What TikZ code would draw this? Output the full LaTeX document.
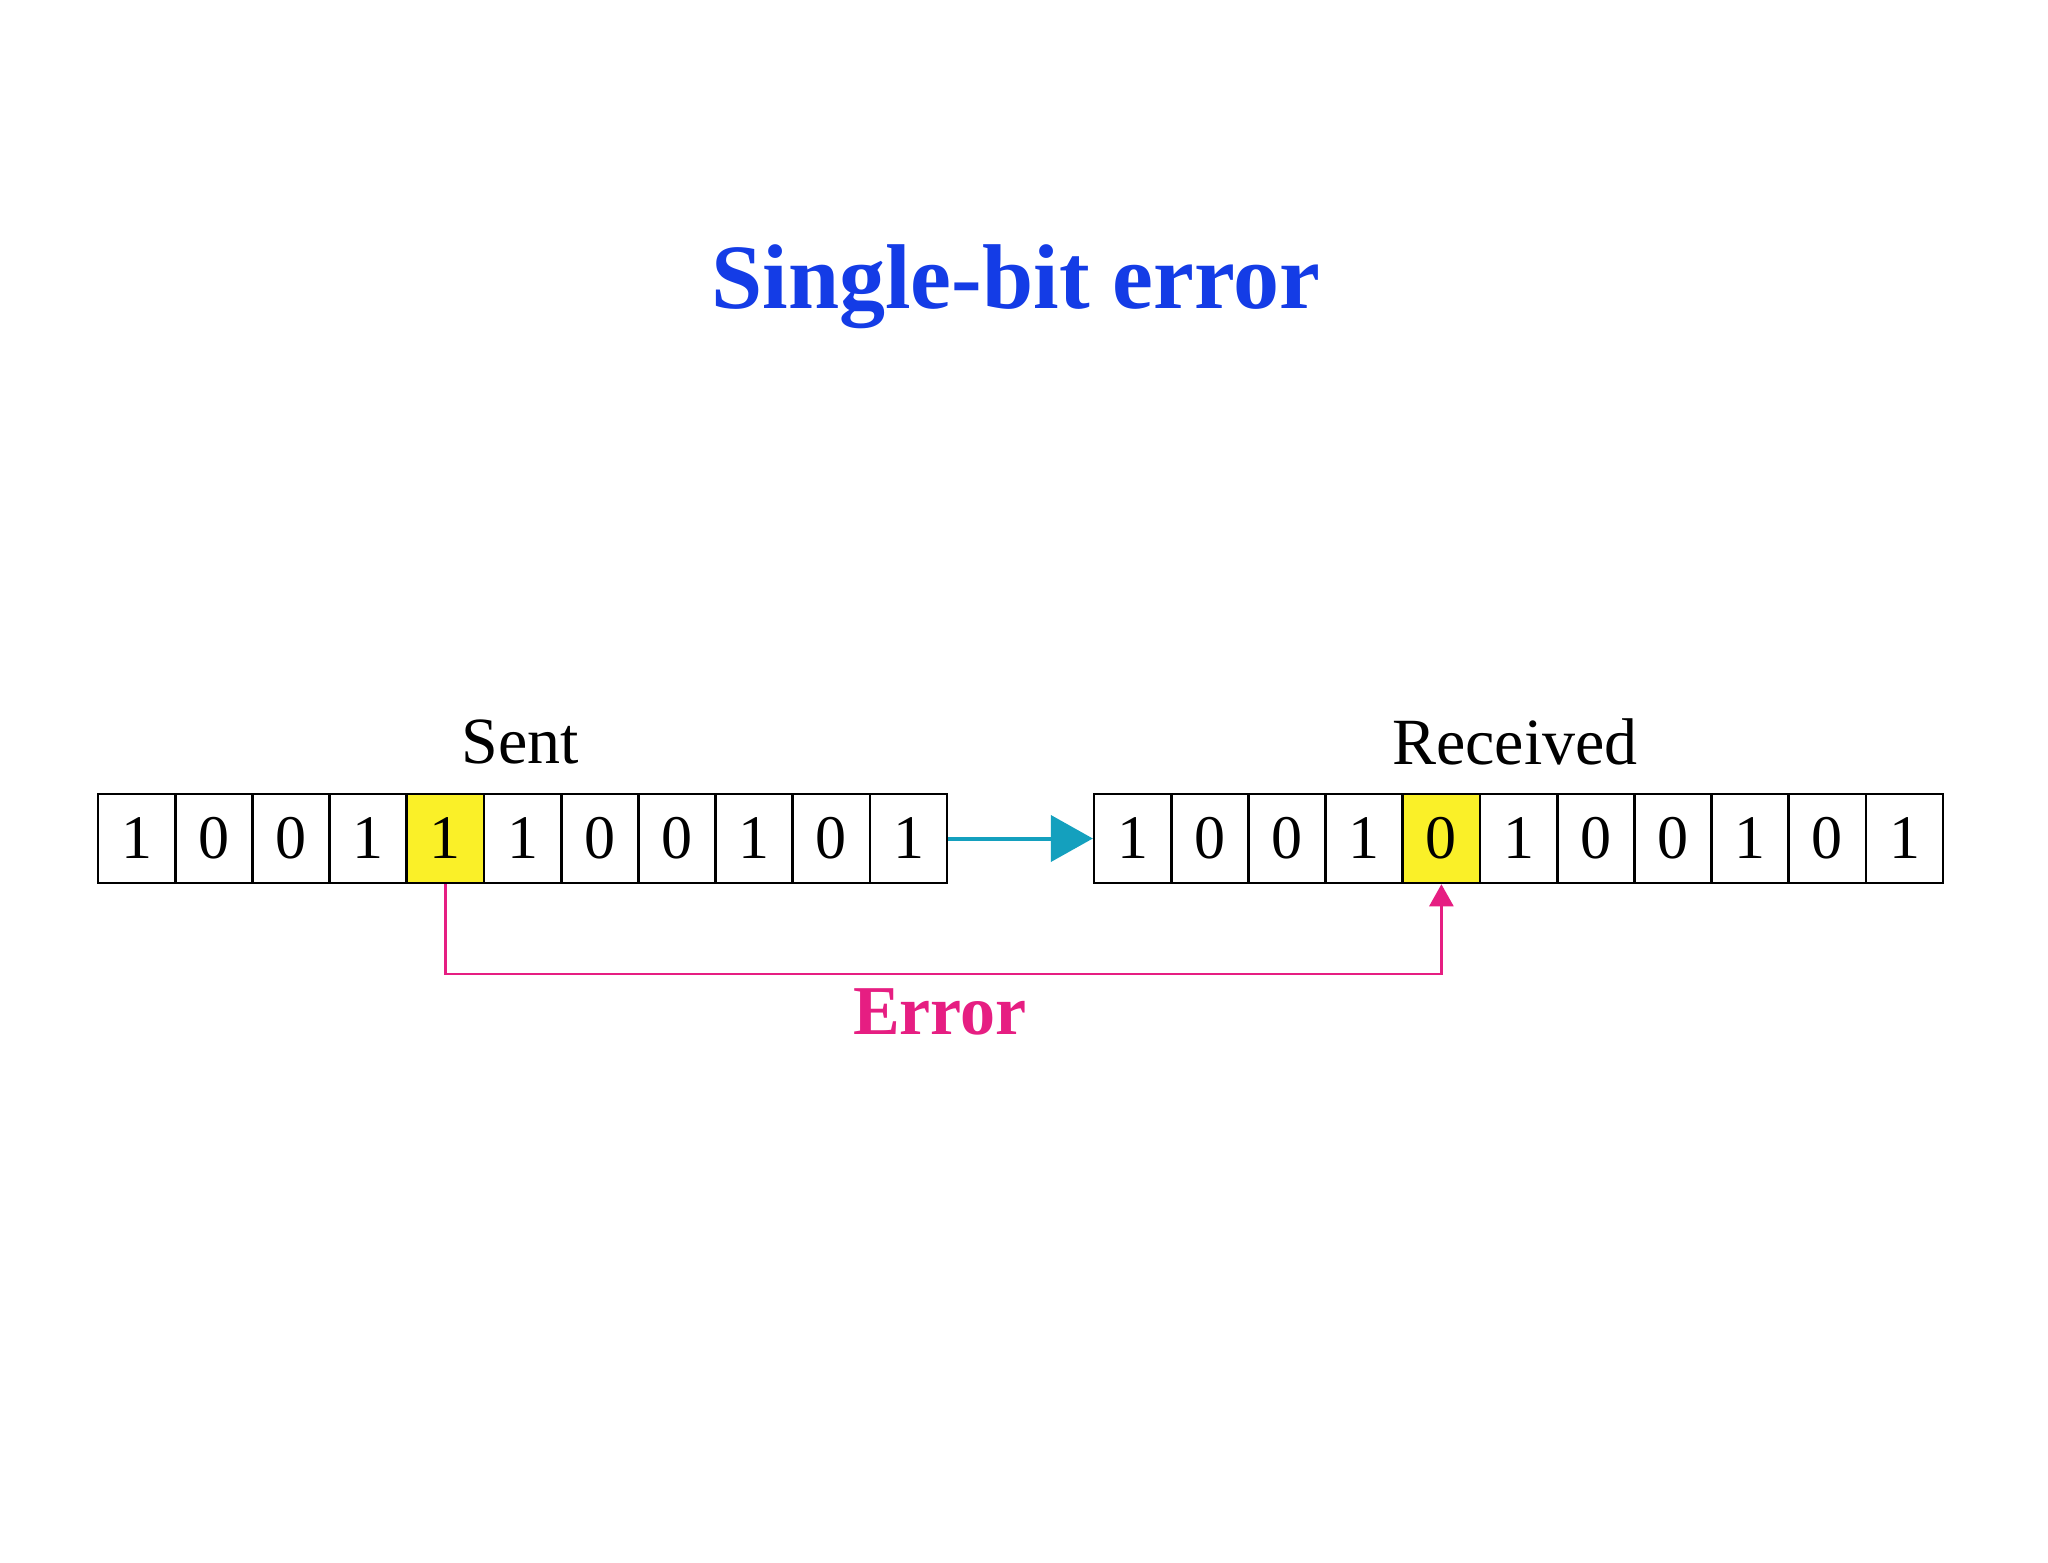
\documentclass[tikz,border=0pt]{standalone}
\usepackage{fontspec}
\setmainfont{Liberation Serif}
\usetikzlibrary{arrows.meta}
\definecolor{ttl}{RGB}{20,60,230}
\definecolor{pnk}{RGB}{230,30,130}
\definecolor{teal}{RGB}{20,160,190}
\definecolor{yel}{RGB}{250,240,40}
\tikzset{cell/.style={draw,line width=2.5pt,minimum width=77pt,minimum height=89pt,inner sep=0,font=\fontsize{62}{62}\selectfont}}
\begin{document}
\begin{tikzpicture}[x=1pt,y=-1pt]
\useasboundingbox (0,0) rectangle (2048,1563);
\fill[white] (0,0) rectangle (2048,1563);
\node[font=\bfseries\fontsize{92}{92}\selectfont,text=ttl] (title) at (1016,287) {Single-bit error};
\foreach \b [count=\i] in {1,0,0,1,1,1,0,0,1,0,1}{
  \ifnum\i=5 \def\fc{yel}\else\def\fc{white}\fi
  \node[cell,fill=\fc] (s\i) at ({98+38.6+77.2*(\i-1)},838.5) {\b};
}
\foreach \b [count=\i] in {1,0,0,1,0,1,0,0,1,0,1}{
  \ifnum\i=5 \def\fc{yel}\else\def\fc{white}\fi
  \node[cell,fill=\fc] (r\i) at ({1094+38.6+77.2*(\i-1)},838.5) {\b};
}
\node[font=\fontsize{66}{66}\selectfont] (sent) at (520,742) {Sent};
\node[font=\fontsize{66}{66}\selectfont] (recv) at (1515,742) {Received};
\draw[teal,line width=4pt,-{Triangle[length=42pt,width=46pt]}] (s11.east) -- (r1.west);
\coordinate (c1) at (s5.south|-0,974);
\coordinate (c2) at (r5.south|-0,974);
\draw[pnk,line width=2.5pt,-{Triangle[length=22pt,width=24pt]}] (s5.south) -- (c1) -- (c2) -- (r5.south);
\node[font=\bfseries\fontsize{70}{70}\selectfont,text=pnk] (err) at (940,1012) {Error};
\end{tikzpicture}
\end{document}
